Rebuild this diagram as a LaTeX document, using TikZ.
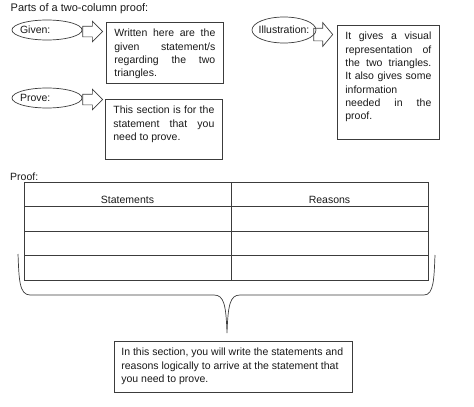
\documentclass[tikz,border=0pt]{standalone}
\usepackage{fontspec}
\setmainfont{Liberation Sans}
\usetikzlibrary{positioning,shapes.geometric,shapes.arrows}
\definecolor{edgegray}{RGB}{60,60,60}
\definecolor{inkgray}{RGB}{25,25,25}
\hyphenpenalty=10000
\tikzset{
  txt/.style   ={font=\fontsize{10.5pt}{13.3pt}\selectfont, text=inkgray},
  oval/.style  ={ellipse, draw=edgegray, line width=0.7pt, inner ysep=0pt, txt},
  loval/.style ={oval, minimum width=70pt, minimum height=20pt, text width=54pt,
                 inner xsep=-8pt, align=flush left},
  blkarr/.style={single arrow, draw=edgegray, line width=0.7pt, inner sep=5pt,
                 single arrow head extend=5pt, single arrow tip angle=90, minimum height=20pt},
  desc/.style  ={draw=edgegray, line width=0.7pt, anchor=north west, inner xsep=8pt,
                 inner ysep=7pt, align=justify, txt},
  cell/.style  ={draw=edgegray, line width=0.7pt, minimum height=24.5pt, inner sep=0pt,
                 outer sep=0pt, txt},
  hcell/.style ={cell, text height=17.6pt, text depth=0pt},
  brc/.style   ={draw=edgegray, line width=0.7pt},
}
\begin{document}
\begin{tikzpicture}[x=1pt,y=-1pt]
\useasboundingbox (0,0) rectangle (474,407);
\node[txt,font=\fontsize{11pt}{13.3pt}\selectfont,anchor=base west,inner sep=0pt] (title) at (10.5,11.5)
  {Parts of a two-column proof:};
% the three parts
\node[loval] (given) at (47,30) {Given:};
\node[blkarr,right=0pt of given,yshift=-1.5pt] (garr) {};
\node[desc,text width=101pt,text depth=39.3pt] (gbox) at (106,22)
  {Written here are the\linebreak given statement/s\linebreak regarding the two\linebreak triangles.};
\node[loval] (prove) at (47,98) {Prove:};
\node[blkarr,right=0pt of prove,yshift=-1.5pt] (parr) {};
\node[desc,text width=101pt,text depth=38.3pt] (pbox) at (105,99)
  {This section is for the\linebreak statement that you\linebreak need to prove.};
\node[oval,minimum width=64pt,minimum height=26pt,inner xsep=-3pt] (illus) at (284,30) {Illustration:};
\node[blkarr,right=-3pt of illus,yshift=-4.5pt,inner sep=6pt,single arrow head extend=5.5pt,
      single arrow tip angle=100,minimum height=19pt] (iarr) {};
\node[desc,text width=86pt,text depth=92.3pt] (ibox) at (337,25)
  {It gives a visual\linebreak representation of\linebreak the two triangles.\linebreak
   It also gives some\linebreak information\\ needed in the\linebreak proof.};
% proof table
\node[txt,anchor=base west,inner sep=0pt] (proof) at (10,180) {Proof:};
\node[hcell,minimum width=207pt,anchor=north west] (st0) at (24,182) {Statements};
\node[hcell,minimum width=197pt,right=0pt of st0] (re0) {Reasons};
\foreach \r in {1,2,3}{
  \node[cell,minimum width=207pt,anchor=north west] (st\r) at (24,182+24.5*\r) {};
  \node[cell,minimum width=197pt,right=0pt of st\r] (re\r) {};
}
\draw[brc] (18,254) .. controls (19,278) and (19,295) .. (30,295) -- (214,295)
  .. controls (224,295) and (226,305) .. (227,333)
  .. controls (228,305) and (230,295) .. (240,295) -- (424,295)
  .. controls (434,295) and (434,278) .. (435,255);
\node[desc,align=flush left,inner xsep=7pt,text width=224pt,text depth=29.3pt] (sbox) at (114,341)
  {In this section, you will write the statements and\\ reasons logically to arrive at the statement that\\ you need to prove.};
\end{tikzpicture}
\end{document}
